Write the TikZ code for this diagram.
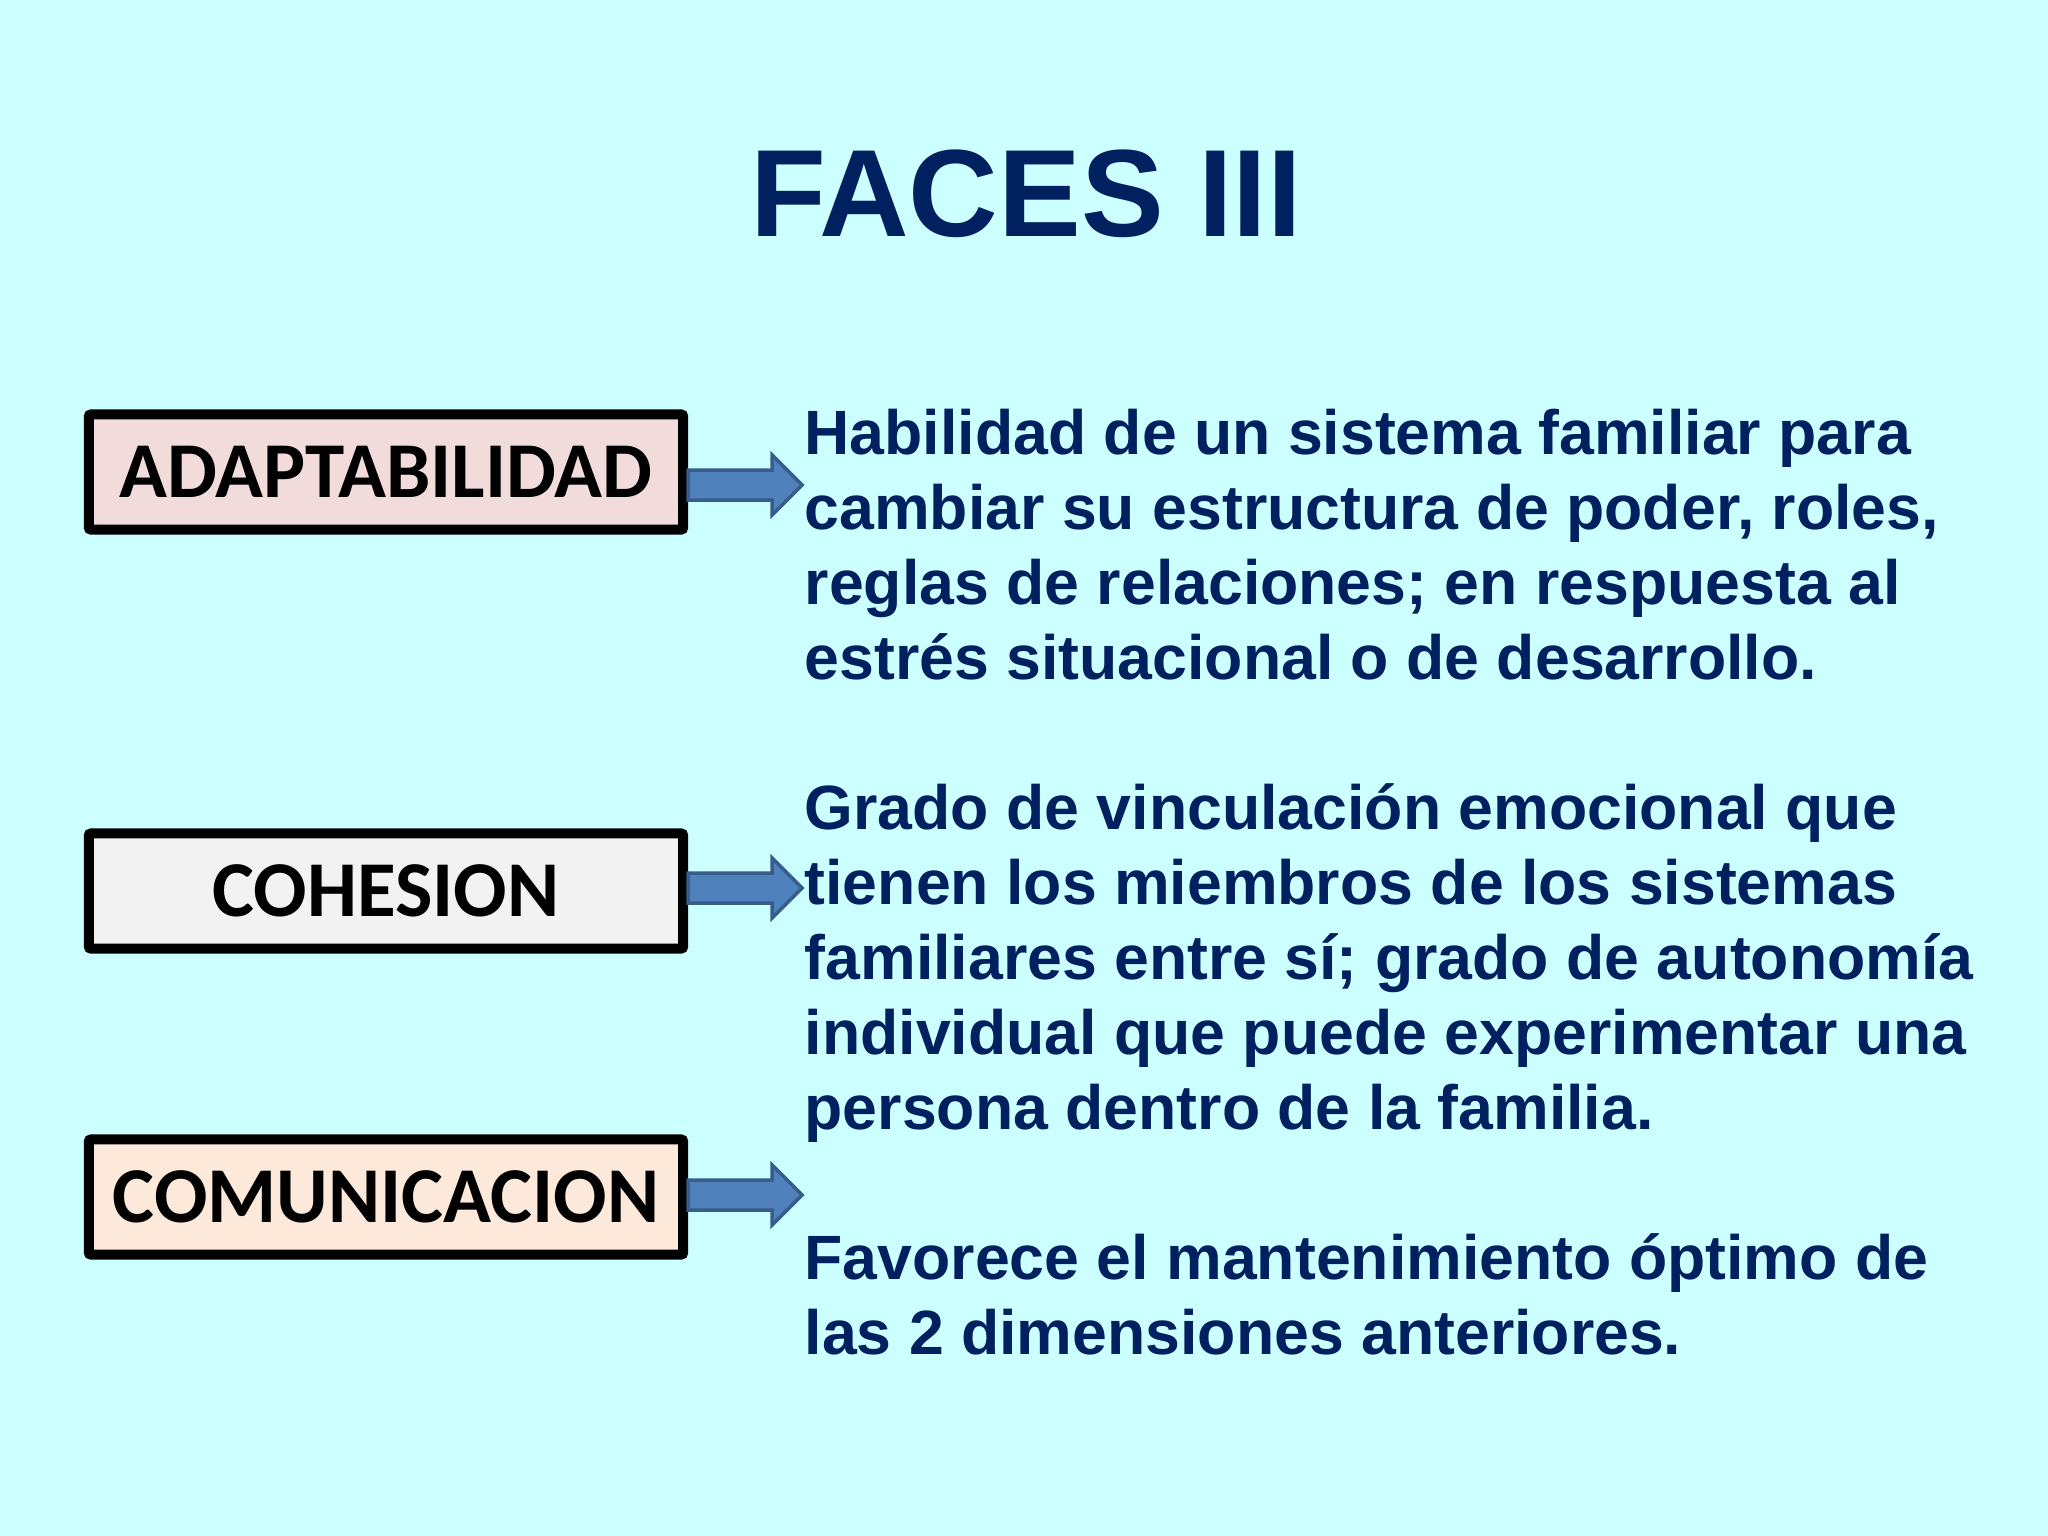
\documentclass[tikz,border=0pt]{standalone}
\usepackage{fontspec}
\setmainfont{Liberation Sans}
\newfontfamily\calibrifont{Carlito}
\usetikzlibrary{positioning}
\definecolor{slidebg}{RGB}{204,255,255}
\definecolor{navy}{RGB}{0,32,96}
\definecolor{pinkbox}{RGB}{242,220,219}
\definecolor{greybox}{RGB}{242,242,242}
\definecolor{peachbox}{RGB}{253,233,217}
\definecolor{arrowblue}{RGB}{79,129,189}
\definecolor{arrowedge}{RGB}{56,93,138}

\begin{document}
\begin{tikzpicture}[x=0.01cm, y=-0.01cm,
  dimbox/.style={draw=black, line width=2.85pt, rounded corners=0.6pt, minimum width=5.94cm, minimum height=1.15cm, inner sep=0pt, font=\calibrifont\bfseries\fontsize{22.5}{26}\selectfont},
  blockarrow/.style={fill=arrowblue, draw=arrowedge, line width=1pt, line join=miter},
  descr/.style={anchor=base west, align=left, inner sep=0pt, text=navy, font=\bfseries\fontsize{17.8}{21.3}\selectfont}]
% Slide background
\fill[slidebg] (0,0) rectangle (2048,1536);
\useasboundingbox (0,0) rectangle (2048,1536);

% Title
\node[anchor=base, inner sep=0pt, text=navy, font=\bfseries\fontsize{35.3}{40}\selectfont] (titulo) at (1026,236) {FACES III};

% Dimensions
\node[dimbox, fill=pinkbox] (adapt) at (386,472) {ADAPTABILIDAD};
\node[dimbox, fill=greybox] (cohes) at (386,891) {COHESION};
\node[dimbox, fill=peachbox] (comun) at (386,1197) {COMUNICACION};

% Block arrows
\draw[blockarrow] ([yshift=-0.13cm]adapt.east) ++(0,-15) -- ++(84,0) -- ++(0,-15) -- ++(30,30) -- ++(-30,30) -- ++(0,-15) -- ++(-84,0) -- cycle;
\draw[blockarrow] ([yshift=0.03cm]cohes.east) ++(0,-15) -- ++(84,0) -- ++(0,-15) -- ++(30,30) -- ++(-30,30) -- ++(0,-15) -- ++(-84,0) -- cycle;
\draw[blockarrow] ([yshift=0.02cm]comun.east) ++(0,-15) -- ++(84,0) -- ++(0,-15) -- ++(30,30) -- ++(-30,30) -- ++(0,-15) -- ++(-84,0) -- cycle;

% Descriptions (base = last line)
\node[descr] (txtadapt) at (804,679) {Habilidad de un sistema familiar para\\cambiar su estructura de poder, roles,\\reglas de relaciones; en respuesta al\\estrés situacional o de desarrollo.};
\node[descr] (txtcohes) at (804,1129) {Grado de vinculación emocional que\\tienen los miembros de los sistemas\\familiares entre sí; grado de autonomía\\individual que puede experimentar una\\persona dentro de la familia.};
\node[descr] (txtcomun) at (804,1354) {Favorece el mantenimiento óptimo de\\las 2 dimensiones anteriores.};

\end{tikzpicture}
\end{document}
